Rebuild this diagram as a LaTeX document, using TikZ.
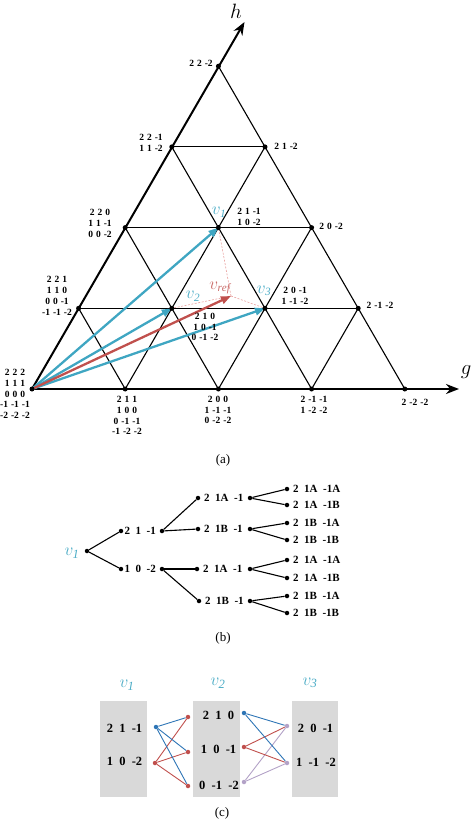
\documentclass[tikz,border=0pt]{standalone}
\usepackage{fontspec}
\setmainfont{Liberation Serif}
\usetikzlibrary{arrows.meta}
\definecolor{cy}{HTML}{4BACC6}
\definecolor{cyarr}{HTML}{3FA6C2}
\definecolor{rd}{HTML}{C0504D}
\definecolor{rdl}{HTML}{E8A09E}
\definecolor{bl}{HTML}{2E75B6}
\definecolor{lav}{HTML}{B3A2C7}
\definecolor{boxg}{HTML}{D9D9D9}
\tikzset{
  lat/.style={line width=1.1pt,black},
  axisln/.style={line width=2pt,-{Stealth[length=13pt,width=10pt]}},
  vec/.style={line width=2.3pt,-{Triangle[length=10pt,width=7.5pt]}},
  ptdot/.style={circle,fill=black,inner sep=0pt,minimum size=5pt},
  tlab/.style={font={\fontsize{9.5}{10.8}\selectfont\bfseries\spaceskip=0.32em\relax},align=center,inner sep=0pt},
  vlab/.style={text=cy,font=\fontsize{16}{16}\selectfont,inner sep=0pt},
  captxt/.style={font=\fontsize{13}{13}\selectfont,inner sep=0pt},
  tdot/.style={circle,fill=black,inner sep=0pt,minimum size=4.5pt},
  tline/.style={line width=1.1pt,black},
  ttx/.style={font={\fontsize{11}{12}\selectfont\bfseries\spaceskip=0.5em\relax},inner sep=0pt,anchor=west},
  gbox/.style={fill=boxg,draw=none,minimum width=47pt,minimum height=96pt,inner sep=0pt},
  ctx/.style={font={\fontsize{12.5}{12.5}\selectfont\bfseries\spaceskip=0.5em\relax},inner sep=0pt},
  cdot/.style={circle,inner sep=0pt,minimum size=4.5pt},
  cl/.style={line width=0.9pt},
}
\begin{document}
\begin{tikzpicture}[x=1pt,y=-1pt]
\useasboundingbox (0,0) rectangle (474,822);
% ---------- (a) lattice ----------
\foreach \i/\j in {0/0,1/0,2/0,3/0,4/0,0/1,1/1,2/1,3/1,0/2,1/2,2/2,0/3,1/3,0/4}
  {\coordinate (p\i\j) at ({32+93.2*\i+46.6*\j},{389-80.7*\j});}
\foreach \j in {1,2,3}{\pgfmathtruncatemacro\e{4-\j}\draw[lat] (p0\j) -- (p\e\j);}
\foreach \i in {1,2,3}{\pgfmathtruncatemacro\e{4-\i}\draw[lat] (p\i0) -- (p\i\e);}
\foreach \k in {1,2,3,4}{\draw[lat] (p0\k) -- (p\k0);}
\coordinate (htip) at (244.5,22);
\coordinate (gtip) at (459,389);
\draw[axisln] (p00) -- (htip);
\draw[axisln] (p00) -- (gtip);
\node[font=\fontsize{20}{20}\selectfont,inner sep=0pt] (hl) at (236,11) {$h$};
\node[font=\fontsize{20}{20}\selectfont,inner sep=0pt] (gl) at (466,372) {$g$};
% vectors
\coordinate (vref) at (231,296);
\draw[rdl,dashed,dash pattern=on 2pt off 1.5pt,line width=0.6pt] (vref) -- (p12);
\draw[rdl,dashed,dash pattern=on 2pt off 1.5pt,line width=0.6pt] (vref) -- (p11);
\draw[rdl,dashed,dash pattern=on 2pt off 1.5pt,line width=0.6pt] (vref) -- (p21);
\draw[vec,cyarr] (p00) -- (p12);
\draw[vec,cyarr] (p00) -- (p11);
\draw[vec,cyarr] (p00) -- (p21);
\draw[vec,rd] (p00) -- (vref);
\foreach \i/\j in {0/0,1/0,2/0,3/0,4/0,0/1,1/1,2/1,3/1,0/2,1/2,2/2,0/3,1/3,0/4}
  {\node[ptdot] (d\i\j) at (p\i\j) {};}
% lattice labels
\node[tlab] (l04) at (201,63) {2 2 -2};
\node[tlab] (l03) at (151,143) {2 2 -1\\1 1 -2};
\node[tlab] (l13) at (286,146) {2 1 -2};
\node[tlab] (l02) at (100,223.5) {2 2 0\\1 1 -1\\0 0 -2};
\node[tlab] (l01) at (57,296) {2 2 1\\1 1 0\\0 0 -1\\-1 -1 -2};
\node[tlab] (l00) at (15,394) {2 2 2\\1 1 1\\0 0 0\\-1 -1 -1\\-2 -2 -2};
\node[tlab] (l10) at (127,415.5) {2 1 1\\1 0 0\\0 -1 -1\\-1 -2 -2};
\node[tlab] (l20) at (218,410) {2 0 0\\1 -1 -1\\0 -2 -2};
\node[tlab] (l30) at (314,404.5) {2 -1 -1\\1 -2 -2};
\node[tlab] (l40) at (415,402) {2 -2 -2};
\node[tlab] (l12) at (249,216.5) {2 1 -1\\1 0 -2};
\node[tlab] (l22) at (331,226) {2 0 -2};
\node[tlab] (l11) at (205,327) {2 1 0\\1 0 -1\\0 -1 -2};
\node[tlab] (l21) at (295,296) {2 0 -1\\1 -1 -2};
\node[tlab] (l31) at (380,305) {2 -1 -2};
\node[vlab] (tv1) at (219,212) {$v_{\mathit{1}}$};
\node[vlab] (tv2) at (193,296) {$v_{\mathit{2}}$};
\node[vlab] (tv3) at (264,291) {$v_{\mathit{3}}$};
\node[vlab,text=rd!85] (tvr) at (220,288) {$v_{\mathit{ref}}$};
\node[captxt] (ca) at (223,460) {(a)};
% ---------- (b) tree ----------
\node[vlab,font=\fontsize{18}{18}\selectfont] (bv1) at (72,553) {$v_{\mathit{1}}$};
\node[tdot] (r) at (87,551) {};
\node[tdot] (n1s) at (121,531) {}; \node[ttx] (n1) at (124.5,531) {2 1 -1}; \node[tdot] (n1e) at (162,531) {};
\node[tdot] (n2s) at (121,569) {}; \node[ttx] (n2) at (124.5,569) {1 0 -2}; \node[tdot] (n2e) at (162,569) {};
\node[tdot] (aS) at (198,498) {}; \node[ttx] (aT) at (204,498) {2 1A -1}; \node[tdot] (aE) at (250,498) {};
\node[tdot] (bS) at (198,529) {}; \node[ttx] (bT) at (204,529) {2 1B -1}; \node[tdot] (bE) at (250,529) {};
\node[tdot] (cS) at (197,569) {}; \node[ttx] (cT) at (203,569) {2 1A -1}; \node[tdot] (cE) at (250,569) {};
\node[tdot] (dS) at (199,601) {}; \node[ttx] (dT) at (205,601) {2 1B -1}; \node[tdot] (dE) at (250,601) {};
\foreach \n/\y/\t in {1/489/2 1A -1A,2/505/2 1A -1B,3/523/2 1B -1A,4/540/2 1B -1B,5/560/2 1A -1A,6/578/2 1A -1B,7/596/2 1B -1A,8/613/2 1B -1B}
  {\node[tdot] (f\n) at (287,\y) {}; \node[ttx] (g\n) at (293,\y) {\t};}
\draw[tline] (r) -- (n1s); \draw[tline] (r) -- (n2s);
\draw[tline] (n1e) -- (aS); \draw[tline] (n1e) -- (bS);
\draw[tline] (n2e) -- (cS); \draw[tline] (n2e) -- (dS);
\draw[tline] (aE) -- (f1); \draw[tline] (aE) -- (f2);
\draw[tline] (bE) -- (f3); \draw[tline] (bE) -- (f4);
\draw[tline] (cE) -- (f5); \draw[tline] (cE) -- (f6);
\draw[tline] (dE) -- (f7); \draw[tline] (dE) -- (f8);
\node[captxt] (cb) at (223,638) {(b)};
% ---------- (c) ----------
\node[gbox] (box1) at (123.5,749) {};
\node[gbox] (box2) at (216.5,749) {};
\node[gbox,minimum width=46pt] (box3) at (315,749) {};
\node[vlab,font=\fontsize{18}{18}\selectfont] (cv1) at (127,685) {$v_{\mathit{1}}$};
\node[vlab,font=\fontsize{18}{18}\selectfont] (cv2) at (218,683) {$v_{\mathit{2}}$};
\node[vlab,font=\fontsize{18}{18}\selectfont] (cv3) at (310,683) {$v_{\mathit{3}}$};
\node[ctx] (t11) at (124.5,728) {2 1 -1};
\node[ctx] (t12) at (124.5,761) {1 0 -2};
\node[ctx] (t21) at (218.5,715) {2 1 0};
\node[ctx] (t22) at (218.5,749) {1 0 -1};
\node[ctx] (t23) at (219,785) {0 -1 -2};
\node[ctx] (t31) at (315.5,728) {2 0 -1};
\node[ctx] (t32) at (316,762) {1 -1 -2};
\node[cdot,fill=bl] (c1b) at (156,727) {};
\node[cdot,fill=rd] (c1r) at (155,763) {};
\node[cdot,fill=rd] (c2a) at (188,717) {};
\node[cdot,fill=rd] (c2b) at (188,752) {};
\node[cdot,fill=rd] (c2c) at (188,786) {};
\node[cdot,fill=bl] (c2x) at (244,713) {};
\node[cdot,fill=rd] (c2y) at (244,747) {};
\node[cdot,fill=lav] (c2z) at (244,782) {};
\node[cdot,fill=lav] (c3a) at (287,726) {};
\node[cdot,fill=lav] (c3b) at (287,763) {};
\foreach \t in {c2a,c2b,c2c}{\draw[cl,bl] (c1b) -- (\t); \draw[cl,rd] (c1r) -- (\t);}
\foreach \t in {c3a,c3b}{\draw[cl,bl] (c2x) -- (\t); \draw[cl,rd] (c2y) -- (\t); \draw[cl,lav] (c2z) -- (\t);}
\node[captxt] (cc) at (222,813) {(c)};
\end{tikzpicture}
\end{document}
